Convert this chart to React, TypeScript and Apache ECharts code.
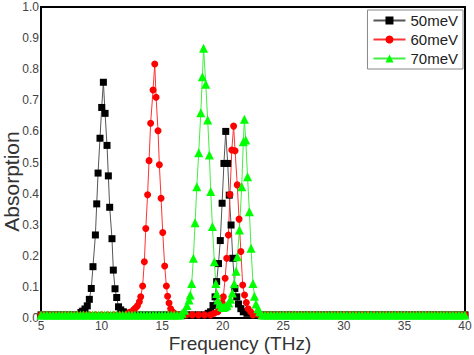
import React, { useEffect, useRef } from "react";
import * as echarts from "echarts";

const FONT = 'Arial, "Liberation Sans", sans-serif';

const seriesNames = ["50meV", "60meV", "70meV"];
const xTicks = { min: 5, max: 40, interval: 5 };
const yTicks = { min: 0, max: 1, interval: 0.1 };
const BASE = 0.01;

// 50meV (black squares)
const base50a = [5, 5.5, 6, 6.5, 7, 7.5, 8];
const peak50a: [number, number][] = [
  [8.3, 0.018], [8.44, 0.022], [8.63, 0.029], [8.82, 0.039], [8.99, 0.06], [9.15, 0.095],
  [9.29, 0.165], [9.49, 0.267], [9.6, 0.367], [9.71, 0.466], [9.87, 0.578], [10.01, 0.677],
  [10.15, 0.758], [10.29, 0.658], [10.45, 0.555], [10.56, 0.457], [10.67, 0.356], [10.86, 0.255],
  [10.97, 0.154], [11.11, 0.094], [11.25, 0.066], [11.4, 0.036], [11.58, 0.026], [11.8, 0.02],
  [12.0, 0.015],
];
const base50b = [12.5, 13, 13.5, 14, 14.5, 15, 15.5, 16, 16.5, 17, 17.5, 18, 18.5];
const peak50b: [number, number][] = [
  [18.8, 0.015], [19.0, 0.02], [19.2, 0.04], [19.37, 0.068], [19.5, 0.117], [19.65, 0.175],
  [19.8, 0.249], [19.95, 0.369], [20.1, 0.497], [20.25, 0.6], [20.41, 0.497], [20.54, 0.395],
  [20.69, 0.299], [20.83, 0.192], [21.0, 0.095], [21.16, 0.068], [21.3, 0.045], [21.5, 0.03],
  [21.7, 0.02], [22.0, 0.015],
];
const base50c = [22.5, 23, 23.5, 24, 24.5, 25, 25.5, 26, 26.5, 27, 27.5, 28, 28.5, 29, 29.5, 30,
  30.5, 31, 31.5, 32, 32.5, 33, 33.5, 34, 34.5, 35, 35.5, 36, 36.5, 37, 37.5, 38, 38.5, 39, 39.5, 40];

// 60meV (red circles)
const base60a = [5, 5.5, 6, 6.5, 7, 7.5, 8, 8.5, 9, 9.5, 10, 10.5, 11, 11.5, 12];
const peak60a: [number, number][] = [
  [12.3, 0.018], [12.63, 0.026], [12.77, 0.031], [12.96, 0.039], [13.12, 0.052], [13.23, 0.068],
  [13.39, 0.103], [13.53, 0.181], [13.65, 0.288], [13.8, 0.396], [13.92, 0.506], [14.05, 0.626],
  [14.25, 0.733], [14.39, 0.817], [14.5, 0.71], [14.66, 0.602], [14.77, 0.493], [14.91, 0.385],
  [15.05, 0.275], [15.21, 0.167], [15.35, 0.103], [15.45, 0.07], [15.57, 0.048], [15.7, 0.03],
  [15.85, 0.02], [16.0, 0.015],
];
const base60b = [16.5, 17, 17.5, 18, 18.5, 19];
const peak60b: [number, number][] = [
  [19.3, 0.015], [19.6, 0.02], [19.8, 0.035], [19.95, 0.05], [20.05, 0.068], [20.2, 0.128],
  [20.33, 0.192], [20.47, 0.267], [20.6, 0.397], [20.75, 0.54], [20.9, 0.617], [21.02, 0.538],
  [21.2, 0.428], [21.35, 0.318], [21.5, 0.214], [21.65, 0.106], [21.8, 0.074], [21.95, 0.05],
  [22.1, 0.03], [22.3, 0.02],
];
const base60c = [22.5, 23, 23.5, 24, 24.5, 25, 25.5, 26, 26.5, 27, 27.5, 28, 28.5, 29, 29.5, 30,
  30.5, 31, 31.5, 32, 32.5, 33, 33.5, 34, 34.5, 35, 35.5, 36, 36.5, 37, 37.5, 38, 38.5, 39, 39.5, 40];

// 70meV (green triangles)
const base70a = [5, 5.25, 5.5, 5.75, 6, 6.25, 6.5, 6.75, 7, 7.25, 7.5, 7.75, 8, 8.25, 8.5, 8.75,
  9, 9.25, 9.5, 9.75, 10, 10.25, 10.5, 10.75, 11, 11.25, 11.5, 11.75, 12, 12.25, 12.5, 12.75,
  13, 13.25, 13.5, 13.75, 14, 14.25, 14.5, 14.75, 15, 15.25, 15.5, 15.75, 16, 16.25, 16.5];
const peak70: [number, number][] = [
  [16.65, 0.015], [16.85, 0.025], [17.05, 0.04], [17.22, 0.058], [17.32, 0.074], [17.44, 0.111],
  [17.58, 0.192], [17.72, 0.306], [17.86, 0.422], [18.02, 0.531], [18.19, 0.66], [18.32, 0.776],
  [18.42, 0.867], [18.6, 0.752], [18.76, 0.637], [18.9, 0.524], [19.01, 0.407], [19.15, 0.294],
  [19.31, 0.181], [19.43, 0.111], [19.5, 0.079], [19.6, 0.058], [19.75, 0.045], [19.9, 0.037],
  [20.05, 0.034], [20.2, 0.036], [20.35, 0.04], [20.5, 0.048], [20.65, 0.06], [20.8, 0.08],
  [20.95, 0.11], [21.1, 0.15], [21.21, 0.197], [21.38, 0.283], [21.57, 0.422], [21.7, 0.567],
  [21.79, 0.639], [21.9, 0.572], [22.05, 0.454], [22.2, 0.342], [22.34, 0.224], [22.5, 0.111],
  [22.62, 0.07], [22.75, 0.045], [22.9, 0.03], [23.05, 0.02],
];
const base70b = [23.25, 23.5, 23.75, 24, 24.25, 24.5, 24.75, 25, 25.25, 25.5, 25.75, 26, 26.25,
  26.5, 26.75, 27, 27.25, 27.5, 27.75, 28, 28.25, 28.5, 28.75, 29, 29.25, 29.5, 29.75, 30, 30.25,
  30.5, 30.75, 31, 31.25, 31.5, 31.75, 32, 32.25, 32.5, 32.75, 33, 33.25, 33.5, 33.75, 34, 34.25,
  34.5, 34.75, 35, 35.25, 35.5, 35.75, 36, 36.25, 36.5, 36.75, 37, 37.25, 37.5, 37.75, 38, 38.25,
  38.5, 38.75, 39, 39.25, 39.5, 39.75, 40];

const withBase = (xs: number[]): [number, number][] => xs.map((x) => [x, BASE]);

const data50 = [...withBase(base50a), ...peak50a, ...withBase(base50b), ...peak50b, ...withBase(base50c)];
const data60 = [...withBase(base60a), ...peak60a, ...withBase(base60b), ...peak60b, ...withBase(base60c)];
const data70 = [...withBase(base70a), ...peak70, ...withBase(base70b)];

export default function App() {
  const ref = useRef<HTMLDivElement>(null);
  useEffect(() => {
    if (!ref.current) return;
    const chart = echarts.init(ref.current, undefined, { renderer: "svg" });
    const mk = (name: string, data: [number, number][], symbol: string, size: number, color: string, lineColor: string) => ({
      name,
      type: "line",
      data,
      symbol,
      symbolSize: size,
      showAllSymbol: true,
      clip: false,
      itemStyle: { color },
      lineStyle: { color: lineColor, width: 1 },
      emphasis: { disabled: true },
    });
    chart.setOption({
      animation: false,
      backgroundColor: "#fff",
      grid: {
        left: 41, right: 9, top: 7, bottom: 37,
        containLabel: false,
        outerBoundsMode: "none",
        show: true, borderColor: "#000", borderWidth: 2,
      },
      legend: {
        orient: "vertical",
        right: 11,
        top: 10,
        padding: [3, 5, 3, 5],
        itemGap: 4,
        itemWidth: 32,
        itemHeight: 10,
        backgroundColor: "#fff",
        borderColor: "#888",
        borderWidth: 1,
        borderRadius: 0,
        textStyle: { fontFamily: FONT, fontSize: 15, color: "#222", padding: [0, 0, 0, 0] },
        data: seriesNames,
      },
      xAxis: {
        type: "value",
        min: xTicks.min,
        max: xTicks.max,
        interval: xTicks.interval,
        name: "Frequency (THz)",
        nameLocation: "middle",
        nameGap: 16,
        nameMoveOverlap: false,
        nameTextStyle: { fontFamily: FONT, fontSize: 19, color: "#333", padding: [0, 26, 0, 0] },
        axisLine: { show: true, lineStyle: { color: "#000", width: 2 } },
        axisTick: { show: false },
        splitLine: { show: false },
        axisLabel: { fontFamily: FONT, fontSize: 12, color: "#444", margin: 2 },
      },
      yAxis: {
        type: "value",
        min: yTicks.min,
        max: yTicks.max,
        interval: yTicks.interval,
        name: "Absorption",
        nameLocation: "middle",
        nameGap: 19,
        nameMoveOverlap: false,
        nameTextStyle: { fontFamily: FONT, fontSize: 21, color: "#333", padding: [0, 38, 0, 0] },
        axisLine: { show: true, lineStyle: { color: "#000", width: 2 } },
        axisTick: { show: false },
        splitLine: { show: false },
        axisLabel: {
          fontFamily: FONT,
          fontSize: 12,
          color: "#444",
          margin: 2,
          formatter: (v: number) => v.toFixed(1),
        },
      },
      series: [
        mk(seriesNames[0], data50, "rect", 7, "#000", "#555"),
        mk(seriesNames[1], data60, "circle", 7, "#ff0000", "#ff3333"),
        mk(seriesNames[2], data70, "triangle", 9, "#00ff00", "#44ee44"),
      ],
    });
    return () => chart.dispose();
  }, []);
  return <div ref={ref} style={{ position: "absolute", left: 0, top: 0, width: 474, height: 355 }} />;
}
